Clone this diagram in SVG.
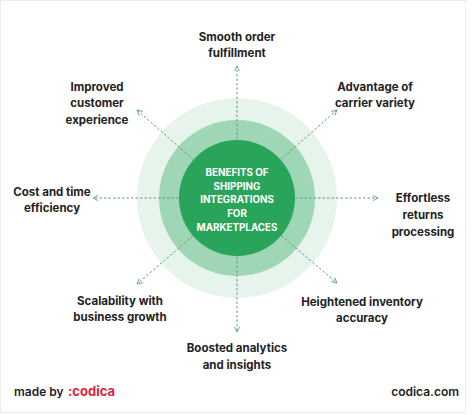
<svg xmlns="http://www.w3.org/2000/svg" width="474" height="415" viewBox="0 0 474 415">
<defs>
<style>
.lbl{font-family:Inter,"Liberation Sans",sans-serif;font-weight:700;font-size:11.5px;fill:#222;text-anchor:middle}
.ctr{font-family:Inter,"Liberation Sans",sans-serif;font-weight:700;font-size:9.8px;fill:#fff;text-anchor:middle}
.con{stroke:#5e9e84;stroke-width:1;stroke-dasharray:2.5 2;fill:none;marker-end:url(#ah)}
.foot{font-family:Inter,"Liberation Sans",sans-serif;font-weight:600;font-size:12px;fill:#1e1e1e}
</style>
<marker id="ah" viewBox="0 0 8 8" refX="7" refY="4" markerWidth="7" markerHeight="7" orient="auto" markerUnits="userSpaceOnUse">
<path d="M1,1 L7,4 L1,7" fill="none" stroke="#5e9e84" stroke-width="1"/>
</marker>
</defs>
<rect x="0" y="0" width="474" height="415" fill="#ffffff"/>
<rect x="0.5" y="0.5" width="465" height="412" fill="none" stroke="#ededed" stroke-width="1"/>
<g id="rings">
<circle cx="237" cy="198" r="100" fill="#e6f4ec"/>
<circle cx="237" cy="198" r="78" fill="#9fd6b5"/>
</g>
<g id="connectors">
<line class="con" x1="237" y1="198" x2="237" y2="66"/>
<line class="con" x1="237" y1="198" x2="237" y2="332"/>
<line class="con" x1="237" y1="198" x2="93" y2="198"/>
<line class="con" x1="237" y1="198" x2="378" y2="198"/>
<line class="con" x1="237" y1="198" x2="137" y2="110"/>
<line class="con" x1="237" y1="198" x2="337" y2="110"/>
<line class="con" x1="237" y1="198" x2="137" y2="284"/>
<line class="con" x1="237" y1="198" x2="337" y2="283"/>
</g>
<g id="center">
<circle cx="237" cy="198" r="58" fill="#28a55b"/>
<text class="ctr" x="237" y="175.5">BENEFITS OF</text>
<text class="ctr" x="237" y="189.5">SHIPPING</text>
<text class="ctr" x="237" y="203">INTEGRATIONS</text>
<text class="ctr" x="237" y="217">FOR</text>
<text class="ctr" x="237" y="230.5">MARKETPLACES</text>
</g>
<g id="n-smooth"><text class="lbl" x="237" y="41">Smooth order</text><text class="lbl" x="237" y="57">fulfillment</text></g>
<g id="n-improved"><text class="lbl" x="97" y="91">Improved</text><text class="lbl" x="97" y="107">customer</text><text class="lbl" x="97" y="124">experience</text></g>
<g id="n-cost"><text class="lbl" x="52" y="196">Cost and time</text><text class="lbl" x="52" y="212">efficiency</text></g>
<g id="n-advantage"><text class="lbl" x="375" y="91">Advantage of</text><text class="lbl" x="375" y="107">carrier variety</text></g>
<g id="n-returns"><text class="lbl" x="423" y="202">Effortless</text><text class="lbl" x="423" y="219">returns</text><text class="lbl" x="423" y="236">processing</text></g>
<g id="n-scal"><text class="lbl" x="120" y="305">Scalability with</text><text class="lbl" x="120" y="321">business growth</text></g>
<g id="n-inventory"><text class="lbl" x="362" y="306">Heightened inventory</text><text class="lbl" x="362" y="322">accuracy</text></g>
<g id="n-analytics"><text class="lbl" x="237" y="352">Boosted analytics</text><text class="lbl" x="237" y="369">and insights</text></g>
<g id="footer">
<text class="foot" x="14" y="396">made by</text>
<text x="68" y="396" font-family="Inter,'Liberation Sans',sans-serif" font-weight="700" font-size="13px" fill="#d9283f">:codica</text>
<text class="foot" x="459" y="396" text-anchor="end">codica.com</text>
</g>
</svg>
